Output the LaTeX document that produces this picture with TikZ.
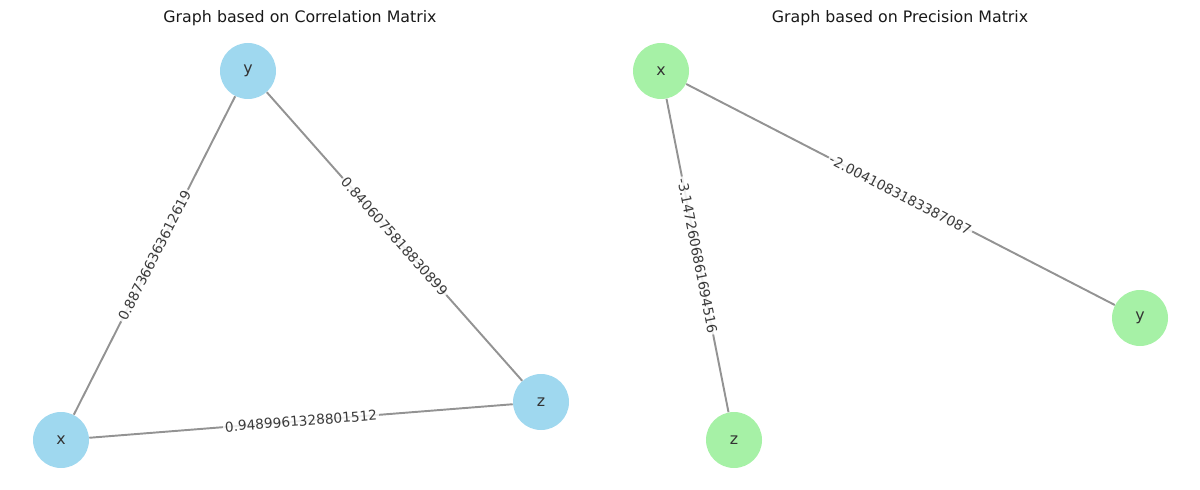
\documentclass[tikz,border=0pt]{standalone}
\usepackage{fontspec}
\setmainfont{DejaVu Sans}
\definecolor{skyblue}{RGB}{135,206,235}
\definecolor{lightgreen}{RGB}{144,238,144}
\tikzset{
	vtx/.style={circle, minimum size=1.12cm, inner sep=0pt, font=\fontsize{9}{10}\selectfont, text=black!80},
	edge/.style={draw=gray, line width=1.1pt, opacity=0.85},
	wlabel/.style={midway, fill=white, inner sep=1pt, font=\fontsize{7.8}{8}\selectfont, text=black!90},
	title/.style={font=\fontsize{9}{10}\selectfont, text=black!90}
}
\begin{document}
\begin{tikzpicture}
	\useasboundingbox (0,0) rectangle (24,9.78);
	\node[title, name=t1] at (6.0, 9.42) {Graph based on Correlation Matrix};
	\node[title, name=t2] at (18.0, 9.42) {Graph based on Precision Matrix};
	\node[vtx, fill=skyblue, fill opacity=0.8, text opacity=1, name=cy] at (4.96, 8.36) {y};
	\node[vtx, fill=skyblue, fill opacity=0.8, text opacity=1, name=cx] at (1.22, 0.98) {x};
	\node[vtx, fill=skyblue, fill opacity=0.8, text opacity=1, name=cz] at (10.82, 1.74) {z};
	\draw[edge] (cx) -- (cy) node[wlabel, sloped] {0.887366363612619};
	\draw[edge] (cy) -- (cz) node[wlabel, sloped] {0.8406075818830899};
	\draw[edge] (cx) -- (cz) node[wlabel, sloped] {0.9489961328801512};
	\node[vtx, fill=lightgreen, fill opacity=0.8, text opacity=1, name=px] at (13.22, 8.36) {x};
	\node[vtx, fill=lightgreen, fill opacity=0.8, text opacity=1, name=py] at (22.80, 3.42) {y};
	\node[vtx, fill=lightgreen, fill opacity=0.8, text opacity=1, name=pz] at (14.68, 0.98) {z};
	\draw[edge] (px) -- (py) node[wlabel, sloped] {-2.0041083183387087};
	\draw[edge] (px) -- (pz) node[wlabel, rotate=-78.8] {-3.1472606861694516};
\end{tikzpicture}
\end{document}
